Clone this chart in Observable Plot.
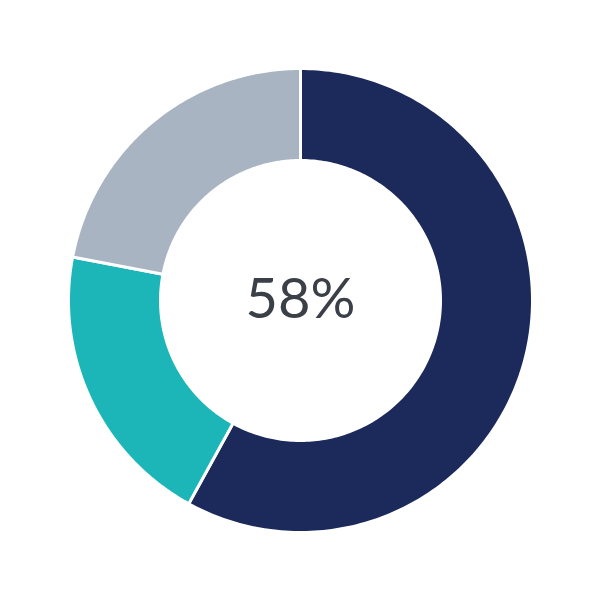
<!DOCTYPE html>
<html>
<head>
<meta charset="utf-8">
<script src="https://cdn.jsdelivr.net/npm/d3@7"></script>
<script src="https://cdn.jsdelivr.net/npm/@observablehq/plot@0.6"></script>
<style>
  html, body { margin: 0; padding: 0; background: #fff; }
  #chart { width: 600px; height: 600px; }
</style>
</head>
<body>
<div id="chart"></div>
<script>
const categories = ["A", "B", "C"];
const values = [58, 20, 22];
const colors = ["#1c2a5b", "#1cb5b8", "#a9b4c2"];
const centerLabel = "58%";

const outerR = 232;
const innerR = 140;

const pie = d3.pie().sort(null).value(d => d.value)(categories.map((c, i) => ({category: c, value: values[i]})));

const pts = [];
pie.forEach(s => {
  const n = 200;
  const ring = [];
  for (let k = 0; k <= n; k++) {
    const a = s.startAngle + (s.endAngle - s.startAngle) * k / n;
    ring.push([outerR * Math.sin(a), -outerR * Math.cos(a)]);
  }
  for (let k = n; k >= 0; k--) {
    const a = s.startAngle + (s.endAngle - s.startAngle) * k / n;
    ring.push([innerR * Math.sin(a), -innerR * Math.cos(a)]);
  }
  ring.push(ring[0]);
  ring.forEach(p => pts.push({x: p[0], y: p[1], category: s.data.category}));
});

const chart = Plot.plot({
  width: 600,
  height: 600,
  margin: 0,
  x: {domain: [-300, 300], axis: null},
  y: {domain: [300, -300], axis: null},
  color: {domain: categories, range: colors},
  style: {background: "#fff"},
  marks: [
    Plot.line(pts, {x: "x", y: "y", z: "category", fill: "category", stroke: "#fff", strokeWidth: 3, curve: "linear"}),
    Plot.text([centerLabel], {x: () => 0, y: () => 0, text: d => d, fontSize: 56, fill: "#3b4048", fontFamily: "Lato", fontWeight: 400, textAnchor: "middle", dy: 0})
  ]
});
document.getElementById("chart").appendChild(chart);
</script>
</body>
</html>
